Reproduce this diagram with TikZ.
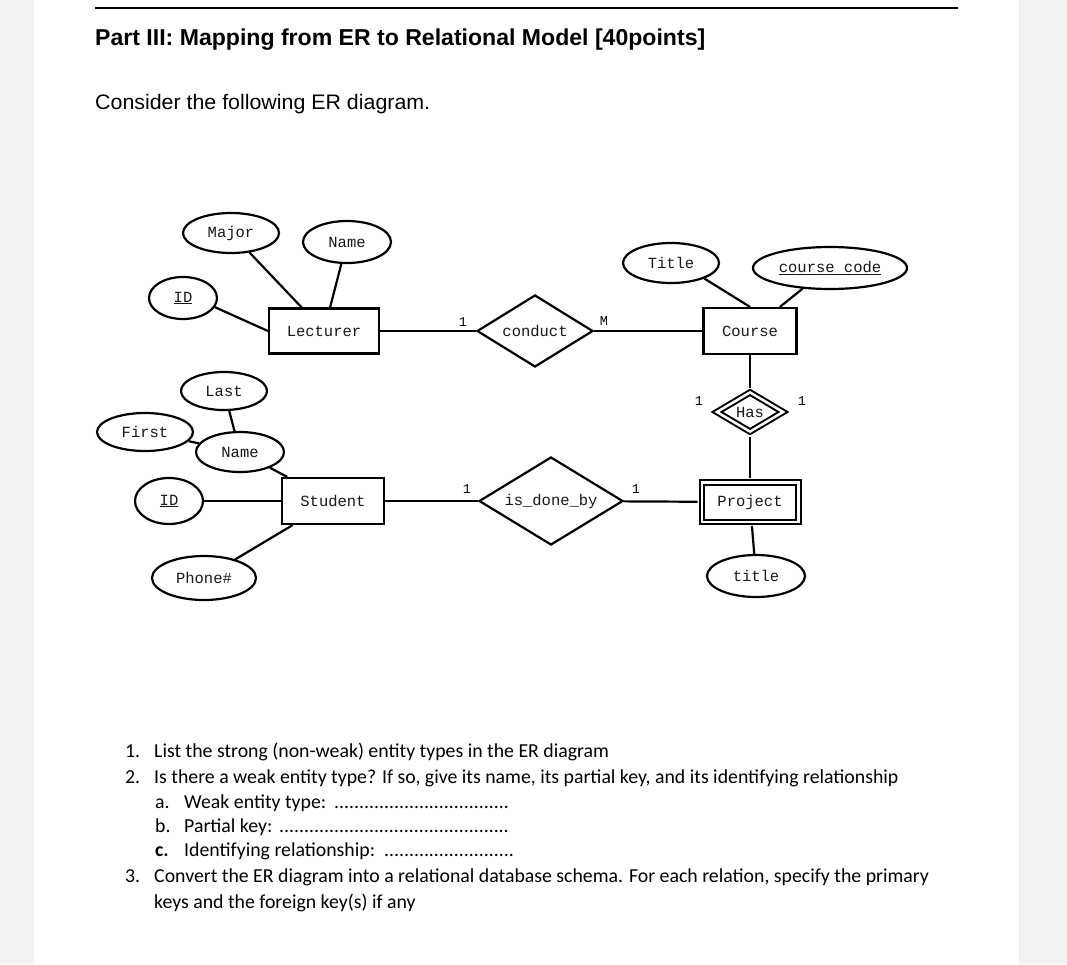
\documentclass[tikz,border=0pt]{standalone}
\usepackage{graphicx}
\usepackage{fontspec}
\setmainfont{Liberation Sans}
\newfontfamily\calib{Carlito}
\newfontfamily\cour{Liberation Mono}
\usetikzlibrary{shapes.geometric}
\definecolor{pagebg}{RGB}{241,242,244}
\begin{document}
\begin{tikzpicture}[x=1pt,y=-1pt,
  er/.style={draw, line width=2.2pt, inner sep=0pt, text=black!90,
    font=\cour\fontsize{15.5}{15.5}\selectfont},
  attr/.style={er, ellipse},
  entity/.style={er, rectangle},
  rel/.style={er, diamond, aspect=1.6, inner sep=1pt},
  wentity/.style={er, rectangle, line width=2pt, double, double distance=2.5pt},
  wrel/.style={er, diamond, aspect=1.7, inner sep=1pt, line width=2pt, double, double distance=2.5pt},
  conn/.style={line width=2.2pt},
  card/.style={inner sep=0pt, font=\cour\fontsize{13.5}{13.5}\selectfont},
  qtext/.style={anchor=base west, inner sep=0pt, font=\calib\fontsize{19.8}{19.8}\selectfont},
]
\useasboundingbox (0,0) rectangle (1067,964);
\fill[pagebg] (0,0) rectangle (1067,964);
\fill[white] (34,0) rectangle (1019,964);
\draw[line width=1.3pt] (95,8) -- (958,8);

% headings
\node[anchor=base west, inner sep=0pt] (head) at (95,45)
  {\resizebox{610pt}{\height}{\fontsize{23}{23}\selectfont\bfseries Part III: Mapping from ER to Relational Model [40points]}};
\node[anchor=base west, inner sep=0pt] (intro) at (95,109)
  {\resizebox{335pt}{\height}{\fontsize{21}{21}\selectfont Consider the following ER diagram.}};

% Lecturer side
\node[attr, minimum width=96, minimum height=40] (major) at (231,233) {Major};
\node[attr, minimum width=88, minimum height=42] (lname) at (347,242) {Name};
\node[attr, minimum width=68, minimum height=42] (lid) at (183,298) {\underline{ID}};
\node[entity, minimum width=110, minimum height=45] (lect) at (324,331) {Lecturer};
\node[rel, minimum width=116, minimum height=72] (conduct) at (535,331) {conduct};
\node[entity, minimum width=93, minimum height=46] (course) at (750,331) {Course};
\node[attr, minimum width=96, minimum height=40] (ctitle) at (671,263) {Title};
\node[attr, minimum width=154, minimum height=42] (ccode) at (830,268) {\underline{course code}};

% weak part
\node[wrel, minimum width=67, minimum height=40] (has) at (750,412) {Has};
\node[wentity, minimum width=96.5, minimum height=39.5] (proj) at (750,502) {Project};
\node[attr, minimum width=98, minimum height=42] (ptitle) at (756,576) {title};

% Student side
\node[rel, minimum width=144, minimum height=88] (done) at (551,501) {is\_done\_by};
\node[entity, minimum width=102, minimum height=46] (stud) at (333,501) {Student};
\node[attr, minimum width=68, minimum height=46] (sid) at (169,501) {\underline{ID}};
\node[attr, minimum width=104, minimum height=44] (phone) at (204,578) {Phone\#};
\node[attr, minimum width=86, minimum height=38] (last) at (224,391) {Last};
\node[attr, minimum width=96, minimum height=38] (first) at (145,432) {First};
\node[attr, minimum width=88, minimum height=40] (sname) at (240,452) {Name};

% connectors
\draw[conn] (major) -- (lect);
\draw[conn] (lname) -- (lect);
\draw[conn] (lid.-16) -- (lect.west);
\draw[conn] (lect) -- (conduct);
\draw[conn] (conduct) -- (course);
\draw[conn] (ctitle.-25) -- (course.north);
\draw[conn] (ccode.217) -- (course);
\draw[conn, shorten >=3.5pt] (course) -- (has);
\draw[conn, shorten <=3.5pt, shorten >=3.25pt] (has) -- (proj);
\draw[conn, shorten <=3.25pt] (proj) -- (ptitle);
\draw[conn] (stud) -- (done);
\draw[conn, shorten >=3.25pt] (done) -- (proj);
\draw[conn] (sid) -- (stud);
\draw[conn] (phone) -- (stud);
\draw[conn] (sname) -- (stud);
\draw[conn] (first) -- (sname);
\draw[conn] (last) -- (sname);

% cardinalities
\node[card] (c1) at (463,322) {1};
\node[card] (c2) at (604,321) {M};
\node[card] (c3) at (699,401) {1};
\node[card] (c4) at (802,401) {1};
\node[card] (c5) at (467,489) {1};
\node[card] (c6) at (636,489) {1};

% questions
\node[qtext] (n1) at (125,757) {1.};
\node[qtext] (q1) at (154,757) {List the strong (non-weak) entity types in the ER diagram};
\node[qtext] (n2) at (125,783) {2.};
\node[qtext] (q2) at (154,783) {Is there a weak entity type? If so, give its name, its partial key, and its identifying relationship};
\node[qtext] (na) at (155,808) {a.};
\node[qtext] (qa) at (184,808) {\hbox to 328pt{Weak entity type: \leaders\hbox{.}\hfill}};
\node[qtext] (nb) at (155,832) {b.};
\node[qtext] (qb) at (184,832) {\hbox to 328pt{Partial key: \leaders\hbox{.}\hfill}};
\node[qtext] (nc) at (155,856) {\bfseries c.};
\node[qtext] (qc) at (184,856) {\hbox to 332pt{Identifying relationship: \leaders\hbox{.}\hfill}};
\node[qtext] (n3) at (125,882) {3.};
\node[qtext] (q3) at (154,882) {Convert the ER diagram into a relational database schema. For each relation, specify the primary};
\node[qtext] (q3b) at (154,908) {keys and the foreign key(s) if any};
\end{tikzpicture}
\end{document}
